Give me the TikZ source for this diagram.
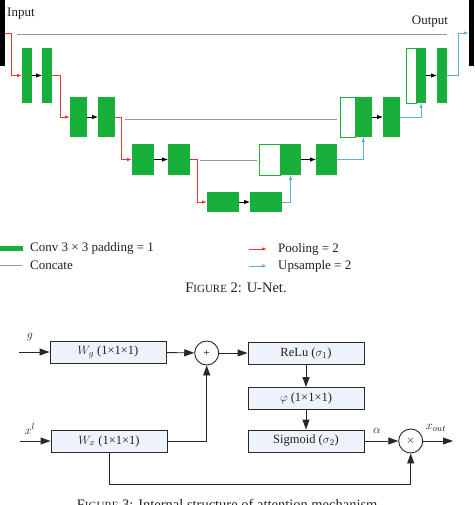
\documentclass[tikz,border=0pt]{standalone}
\usepackage{fontspec}
\setmainfont{Liberation Serif}
\usetikzlibrary{arrows.meta}
\definecolor{cgreen}{RGB}{24,176,58}
\definecolor{cred}{RGB}{226,58,46}
\definecolor{cblue}{RGB}{96,172,222}
\definecolor{cgray}{RGB}{150,150,150}
\definecolor{cbox}{RGB}{238,242,250}
\definecolor{cline}{RGB}{40,40,40}
\definecolor{ctext}{RGB}{35,31,32}
\tikzset{
  blk/.style={fill=cgreen, draw=none, inner sep=0pt, outer sep=0pt},
  wblk/.style={fill=white, draw=cgreen, line width=0.8pt, inner sep=0pt, outer sep=0pt},
  conv/.style={-{Latex[length=6pt,width=4.5pt]}, black, line width=0.8pt},
  pool/.style={-{Latex[length=5pt,width=3.5pt]}, cred, line width=0.8pt},
  ups/.style={-{Latex[length=5pt,width=3.5pt]}, cblue, line width=0.8pt},
  cat/.style={cgray, line width=0.9pt},
  abox/.style={draw=cline, fill=cbox, line width=0.9pt, minimum width=116pt, minimum height=22pt, inner sep=0pt, font=\fontsize{12.5}{14}\selectfont, text=ctext},
  opc/.style={circle, draw=cline, fill=white, line width=0.9pt, minimum size=24pt, inner sep=0pt, font=\fontsize{11}{12}\selectfont},
  aarr/.style={-{Triangle[length=10pt,width=7pt]}, cline, line width=0.9pt},
  lbl/.style={font=\fontsize{13}{15}\selectfont, text=ctext, inner sep=0pt},
}
\begin{document}
\begin{tikzpicture}[x=1pt,y=-1pt]
\useasboundingbox (0,0) rectangle (474,505);
% black bars
\node[fill=black, inner sep=0pt, minimum width=4.5pt, minimum height=66pt] (lbar) at (2.25,33) {};
\node[fill=black, inner sep=0pt, minimum width=5pt, minimum height=66pt] (rbar) at (471.5,33) {};
\node[lbl, anchor=west] (tin) at (7,14) {Input};
\node[lbl] (tout) at (430,22) {Output};
% level 1
\node[blk, minimum width=10pt, minimum height=55pt] (a1) at (27,75.5) {};
\node[blk, minimum width=10pt, minimum height=55pt] (a2) at (47,75.5) {};
\node[wblk, minimum width=10pt, minimum height=55pt] (aw) at (411,75.5) {};
\node[blk, minimum width=10pt, minimum height=55pt] (a3) at (421,75.5) {};
\node[blk, minimum width=10pt, minimum height=55pt] (a4) at (442,75.5) {};
% level 2
\node[blk, minimum width=17pt, minimum height=40pt] (b1) at (78.5,117) {};
\node[blk, minimum width=17pt, minimum height=40pt] (b2) at (106.5,117) {};
\node[wblk, minimum width=15pt, minimum height=40pt] (bw) at (347.5,117) {};
\node[blk, minimum width=16.5pt, minimum height=40pt] (b3) at (363.25,117) {};
\node[blk, minimum width=17pt, minimum height=40pt] (b4) at (391.5,117) {};
% level 3
\node[blk, minimum width=22pt, minimum height=31pt] (c1) at (143,159.5) {};
\node[blk, minimum width=22pt, minimum height=31pt] (c2) at (179,159.5) {};
\node[wblk, minimum width=21pt, minimum height=31pt] (cw) at (269.5,159.5) {};
\node[blk, minimum width=21pt, minimum height=31pt] (c3) at (290.5,159.5) {};
\node[blk, minimum width=21pt, minimum height=31pt] (c4) at (326.5,159.5) {};
% level 4
\node[blk, minimum width=32pt, minimum height=20pt] (d1) at (223,202) {};
\node[blk, minimum width=32pt, minimum height=20pt] (d2) at (266,202) {};
% conv arrows
\draw[conv] (a1) -- (a2);
\draw[conv] (a3) -- (a4);
\draw[conv] (b1) -- (b2);
\draw[conv] (b3) -- (b4);
\draw[conv] (c1) -- (c2);
\draw[conv] (c3) -- (c4);
\draw[conv] (d1) -- (d2);
% pooling
\coordinate (p0) at (4.5,33);
\draw[pool] (p0) -- (11,33) |- (a1.west);
\draw[pool] (a2.east) -- (60,75.5) |- (b1.west);
\draw[pool] (b2.east) -- (121.7,117) |- (c1.west);
\draw[pool] (c2.east) -- (197,159.5) |- (d1.west);
% upsample
\draw[ups] (d2.east) -| (c3.south);
\draw[ups] (c4.east) -| (b3.south);
\draw[ups] (b4.east) -| (a3.south);
\draw[ups] (a4.east) -- (458,75.5) |- (rbar.west |- p0);
% concat lines
\coordinate (k1a) at (17,34); \coordinate (k1b) at (447,34);
\coordinate (k2a) at (125,119); \coordinate (k2b) at (337,119);
\coordinate (k3a) at (200,160); \coordinate (k3b) at (257,160);
\draw[cat] (k1a) -- (k1b);
\draw[cat] (k2a) -- (k2b);
\draw[cat] (k3a) -- (k3b);
% legend
\node[blk, minimum width=23pt, minimum height=5pt, anchor=west] (lg1) at (0,248) {};
\node[lbl, anchor=west] (lt1) at (30,248) {Conv 3 × 3 padding = 1};
\coordinate (lg2a) at (0,265); \coordinate (lg2b) at (22,265);
\draw[cat] (lg2a) -- (lg2b);
\node[lbl, anchor=west] (lt2) at (30,265) {Concate};
\coordinate (lg3a) at (249,249); \coordinate (lg3b) at (267,249);
\draw[pool] (lg3a) -- (lg3b);
\node[lbl, anchor=west] (lt3) at (278,249) {Pooling = 2};
\coordinate (lg4a) at (249,266); \coordinate (lg4b) at (267,266);
\draw[ups] (lg4a) -- (lg4b);
\node[lbl, anchor=west] (lt4) at (278,266) {Upsample = 2};
\node[lbl, font=\fontsize{14.5}{16}\selectfont] (cap2) at (236,288) {F{\fontsize{11}{12}\selectfont IGURE} 2: U-Net.};
% attention
\node[abox] (wg) at (108,352) {$W_g$ (1×1×1)};
\node[abox] (wx) at (109,441) {$W_x$ (1×1×1)};
\node[abox] (relu) at (306,353.5) {ReLu ($\sigma_1$)};
\node[abox] (phi) at (306,398.5) {$\varphi$ (1×1×1)};
\node[abox] (sig) at (306,441) {Sigmoid ($\sigma_2$)};
\node[opc] (plus) at (206.7,353) {+};
\node[opc] (times) at (410.7,441) {$\times$};
\coordinate (gin) at (19,352);
\coordinate (xin) at (20,441);
\coordinate (xout) at (453,441);
\node[lbl] (lg) at (30,337) {$g$};
\node[lbl] (lx) at (30,429) {$x^l$};
\node[lbl] (la) at (377,431) {$\alpha$};
\node[lbl] (lo) at (436,428) {$x_{out}$};
\draw[aarr] (gin) -- (wg);
\draw[aarr] (xin) -- (wx);
\draw[aarr] (wg) -- (plus);
\draw[aarr] (plus) -- (relu.west |- plus);
\draw[aarr] (relu) -- (phi);
\draw[aarr] (phi) -- (sig);
\draw[aarr] (sig) -- (times);
\draw[aarr] (times) -- (xout);
\draw[aarr] (wx.east) -| (plus.south);
\draw[aarr] (wx.south) -- (wx.south |- 0,484) -| (times.south);
\node[lbl, font=\fontsize{14.5}{16}\selectfont, anchor=base] (cap3) at (229,509.6) {F{\fontsize{11}{12}\selectfont IGURE} 3: Internal structure of attention mechanism.};
\end{tikzpicture}
\end{document}
